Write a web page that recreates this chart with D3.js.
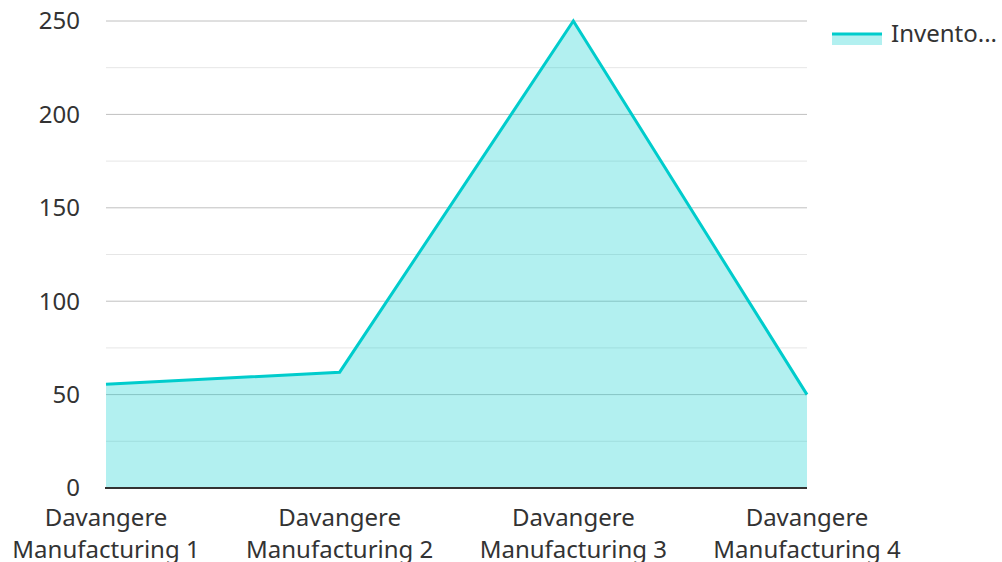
<!DOCTYPE html>
<html>
<head>
<meta charset="utf-8">
<script src="https://cdn.jsdelivr.net/npm/d3@7"></script>
<style>
  body { margin: 0; background: #fff; }
  text { font-family: "Noto Sans", "Open Sans", sans-serif; fill: #333; }
</style>
</head>
<body>
<div id="chart"></div>
<script>
// Chart data
const categories = ["Davangere Manufacturing 1", "Davangere Manufacturing 2", "Davangere Manufacturing 3", "Davangere Manufacturing 4"];
const inventory = [55.5, 62, 250, 50];
const yTicks = [0, 50, 100, 150, 200, 250];
const minorTicks = [25, 75, 125, 175, 225];
const seriesName = "Invento...";

const width = 1002, height = 562;
const margin = { top: 21, right: 195, bottom: 74, left: 106 };

const svg = d3.select("#chart")
    .append("svg")
    .attr("width", width)
    .attr("height", height);

const xScale = d3.scalePoint()
    .domain(categories)
    .range([margin.left, width - margin.right])
    .padding(0);

const yScale = d3.scaleLinear()
    .domain([0, 250])
    .range([height - margin.bottom, margin.top]);

// Minor gridlines
svg.append("g")
    .selectAll("line")
    .data(minorTicks)
    .enter().append("line")
    .attr("x1", margin.left)
    .attr("x2", width - margin.right)
    .attr("y1", d => yScale(d))
    .attr("y2", d => yScale(d))
    .attr("stroke", "#e6e6e6")
    .attr("stroke-width", 1);

// Major gridlines
svg.append("g")
    .selectAll("line")
    .data(yTicks.filter(d => d > 0))
    .enter().append("line")
    .attr("x1", margin.left)
    .attr("x2", width - margin.right)
    .attr("y1", d => yScale(d))
    .attr("y2", d => yScale(d))
    .attr("stroke", "#c0c0c0")
    .attr("stroke-width", 1);

// Y-axis labels
svg.append("g")
    .selectAll("text")
    .data(yTicks)
    .enter().append("text")
    .attr("x", 80)
    .attr("y", d => yScale(d))
    .attr("dy", "0.35em")
    .attr("text-anchor", "end")
    .style("font-size", "24px")
    .text(d => d);

// Area + line
const area = d3.area()
    .x((d, i) => xScale(categories[i]))
    .y0(yScale(0))
    .y1(d => yScale(d));

const line = d3.line()
    .x((d, i) => xScale(categories[i]))
    .y(d => yScale(d));

svg.append("path")
    .datum(inventory)
    .attr("fill", "#00cccc")
    .attr("fill-opacity", 0.3)
    .attr("d", area);

svg.append("path")
    .datum(inventory)
    .attr("fill", "none")
    .attr("stroke", "#00cccc")
    .attr("stroke-width", 3)
    .attr("stroke-linejoin", "miter")
    .attr("d", line);

// Baseline
svg.append("line")
    .attr("x1", margin.left - 1)
    .attr("x2", width - margin.right)
    .attr("y1", yScale(0))
    .attr("y2", yScale(0))
    .attr("stroke", "#333")
    .attr("stroke-width", 2);

// X-axis labels (two lines)
const xLabels = svg.append("g")
    .selectAll("text")
    .data(categories)
    .enter().append("text")
    .attr("x", d => xScale(d))
    .attr("y", 526)
    .attr("text-anchor", "middle")
    .style("font-size", "24px");

xLabels.append("tspan")
    .attr("x", d => xScale(d))
    .text(d => d.split(" ")[0]);

xLabels.append("tspan")
    .attr("x", d => xScale(d))
    .attr("dy", 32)
    .text(d => d.split(" ").slice(1).join(" "));

// Legend
svg.append("rect")
    .attr("x", 832).attr("y", 33)
    .attr("width", 50).attr("height", 12)
    .attr("fill", "#00cccc").attr("fill-opacity", 0.3);
svg.append("line")
    .attr("x1", 832).attr("x2", 882)
    .attr("y1", 34).attr("y2", 34)
    .attr("stroke", "#00cccc").attr("stroke-width", 3);
svg.append("text")
    .attr("x", 891).attr("y", 34)
    .attr("dy", "0.35em")
    .style("font-size", "24px")
    .text(seriesName);
</script>
</body>
</html>
